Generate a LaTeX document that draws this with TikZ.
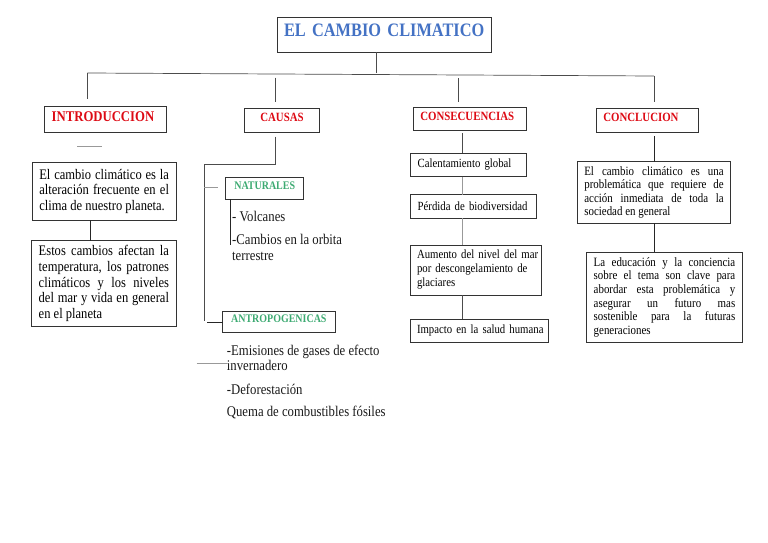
\documentclass[tikz,border=0pt]{standalone}
\usepackage{fontspec}
\setmainfont{Liberation Serif}[FakeStretch=0.86]
\definecolor{tblue}{HTML}{4472C4}
\definecolor{tred}{HTML}{DD0A14}
\definecolor{tgreen}{HTML}{3DAA72}
\begin{document}
\begin{tikzpicture}[x=1pt,y=-1pt,
  box/.style={draw=black!80,line width=1pt,anchor=north west,inner xsep=7pt,inner ysep=0pt,outer sep=0pt},
  head/.style={box,font=\fontsize{12.6}{14}\selectfont\bfseries,text=tred,text height=9pt,text depth=6pt},
  sub/.style={box,font=\fontsize{11.6}{13}\selectfont\bfseries,text=tgreen,text height=8pt,text depth=6pt},
  bigtxt/.style={box,font=\fontsize{14.6}{15.7}\selectfont,align=justify},
  smalltxt/.style={box,font=\fontsize{12.7}{13.6}\selectfont,align=justify},
  contxt/.style={box,font=\fontsize{12.5}{14}\selectfont,align=left},
  item/.style={anchor=base west,inner sep=0pt,font=\fontsize{14.8}{16}\selectfont,text=black!90},
  ln/.style={draw=black!70,line width=0.7pt},
  lg/.style={draw=black!40,line width=0.7pt},
  ld/.style={draw=black!85,line width=1pt}]
\useasboundingbox (0,0) rectangle (768,543);

% title
\node[box,minimum width=214pt,minimum height=35pt,text width=200pt,align=center,
  font=\fontsize{19}{21}\selectfont\bfseries,text=tblue,text height=13pt,text depth=10.5pt]
  (title) at (277,17.3) {\mbox{EL CAMBIO CLIMATICO}};

% main headings
\node[head,text width=108pt,minimum height=25.3pt,align=left,font=\fontsize{14.8}{16}\selectfont\bfseries,text height=10pt,text depth=5.2pt]
  (intro) at (44.7,106.7) {\mbox{INTRODUCCION}};
\node[head,text width=60.6pt,minimum height=23.7pt,align=center] (causas) at (244.7,108.3) {\mbox{CAUSAS}};
\node[head,text width=98.7pt,minimum height=22.7pt,align=left,text height=9pt,text depth=5pt] (cons) at (413.3,107.3) {\mbox{CONSECUENCIAS}};
\node[head,text width=88.4pt,minimum height=23.7pt,align=left] (concl) at (596.3,108.3) {\mbox{CONCLUCION}};

% tree from title
\coordinate (t0) at (376.7,73);
\coordinate (jl) at (87.3,73);
\coordinate (jr) at (654,76);
\draw[ln] (title.south -| t0) -- (t0);
\draw[ln] (jl) -- (jr);
\draw[ln] (jl) -- (87.3,99);
\coordinate (c1) at (275.3,77.7);
\draw[ln] (c1) -- (275.3,101.7);
\coordinate (c2) at (458,78);
\draw[ln] (c2) -- (458,102);
\draw[ln] (jr) -- (654,102);

% introduccion
\draw[lg] (77,146.7) -- (102,146.7);
\node[bigtxt,text width=129.7pt,minimum height=57.3pt] (i1) at (32.3,162.7)
  {El cambio climático es la\linebreak alteración frecuente en el\linebreak clima de nuestro planeta.};
\node[bigtxt,text width=130.3pt,minimum height=86pt] (i2) at (31.7,240.7)
  {Estos cambios afectan la\linebreak temperatura, los patrones\linebreak climáticos y los niveles\linebreak del mar y vida en general\linebreak en el planeta};
\draw[ld] (i1.south -| 90,0) -- (i2.north -| 90,0);

% causas
\coordinate (k1) at (275.3,164);
\coordinate (k2) at (204.3,164);
\coordinate (k3) at (204.3,320.7);
\draw[ln] (causas.south -| k1) ++(0,4.7) -- (k1) -- (k2) -- (k3);
\node[sub,text width=64pt,minimum height=21.3pt,align=center] (nat) at (225.7,177.7) {\mbox{NATURALES}};
\node[sub,text width=98.3pt,minimum height=21.3pt,align=center] (antro) at (222.7,311) {\mbox{ANTROPOGENICAS}};
\draw[lg] (204.3,187.7) -- (218,187.7);
\draw[ld] (207,322) -- (antro.west |- 0,322);
\coordinate (n1) at (230.5,245);
\draw[ld] (nat.south -| n1) -- (n1);
\node[item] (v1) at (232,221.7) {- Volcanes};
\node[item] (v2) at (232,244.3) {-Cambios en la orbita};
\node[item] (v3) at (232,260.7) {terrestre};
\node[item] (a1) at (226.7,355) {-Emisiones de gases de efecto};
\node[item] (a2) at (226.7,370.7) {invernadero};
\node[item] (a3) at (226.7,394) {-Deforestación};
\node[item] (a4) at (226.7,416.7) {Quema de combustibles fósiles};
\coordinate (g1) at (196.7,363.3);
\draw[lg] (g1) -- (a2.west |- g1);

% consecuencias
\node[contxt,text width=102pt,minimum height=23.4pt] (q1) at (410.7,153.3) {\mbox{Calentamiento global}};
\node[contxt,text width=111.3pt,minimum height=24pt] (q2) at (410.7,194.3) {\mbox{Pérdida de biodiversidad}};
\node[contxt,text width=117.7pt,minimum height=50pt] (q3) at (410,245) {\mbox{Aumento del nivel del mar}\\\mbox{por descongelamiento de}\\glaciares};
\node[contxt,text width=124.3pt,minimum height=23.7pt] (q4) at (410,319) {\mbox{Impacto en la salud humana}};
\coordinate (qx) at (462.5,0);
\draw[ln] (cons.south -| qx) ++(0,3) -- (q1.north -| qx);
\draw[lg] (q1.south -| qx) -- ([yshift=-1pt]q2.north -| qx);
\draw[lg] (q2.south -| qx) -- (q3.north -| qx);
\draw[ln] (q3.south -| qx) -- (q4.north -| qx);

% conclusion
\node[smalltxt,text width=139.4pt,minimum height=61.6pt] (k5) at (577.3,161.7)
  {El cambio climático es una\linebreak problemática que requiere de\linebreak acción inmediata de toda la\linebreak sociedad en general};
\node[smalltxt,text width=141.6pt,minimum height=90.7pt] (k6) at (586.7,252)
  {La educación y la conciencia\linebreak sobre el tema son clave para\linebreak abordar esta problemática y\linebreak asegurar un futuro mas\linebreak sostenible para la futuras\linebreak generaciones};
\coordinate (kx) at (654,0);
\draw[ld] (concl.south -| kx) ++(0,4) -- (k5.north -| kx);
\draw[ld] (k5.south -| kx) -- (k6.north -| kx);
\end{tikzpicture}
\end{document}
